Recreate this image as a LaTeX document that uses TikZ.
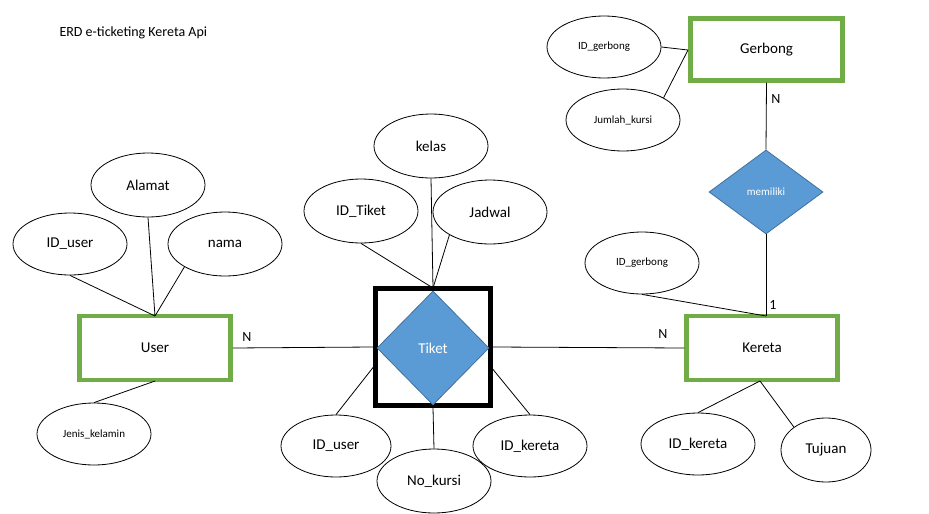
\documentclass[tikz,border=0pt]{standalone}
\usepackage{fontspec}
\setmainfont{Carlito}
\usetikzlibrary{shapes.geometric}
\definecolor{grn}{HTML}{70AD47}
\definecolor{blu}{HTML}{5B9BD5}
\definecolor{bord}{HTML}{41719C}
\begin{document}
\begin{tikzpicture}[x=1pt,y=-1pt,
 ent/.style={draw=grn,line width=4.5pt,minimum width=152pt,minimum height=62pt,font=\fontsize{15}{18}\selectfont},
 att/.style={draw,ellipse,line width=0.8pt,minimum width=114pt,minimum height=62pt,font=\fontsize{15}{18}\selectfont},
 satt/.style={att,font=\fontsize{11}{13}\selectfont},
 rel/.style={diamond,fill=blu,draw=bord,line width=0.8pt,aspect=1},
 ln/.style={line width=0.8pt}]
\useasboundingbox (0,0) rectangle (929,514);
\node[anchor=west,font=\fontsize{14}{17}\selectfont] (title) at (56,33) {ERD e-ticketing Kereta Api};
% entities
\node[ent] (gerbong) at (766.5,49.5) {Gerbong};
\node[ent,minimum width=151pt,minimum height=64pt] (kereta) at (762,348) {Kereta};
\node[ent,minimum width=151pt,minimum height=64pt] (user) at (155,348) {User};
\node[draw,line width=5pt,minimum width=115pt,minimum height=117pt] (tbox) at (433,347) {};
\node[rel,minimum width=112pt,minimum height=114pt,inner sep=0pt,font=\fontsize{15}{18}\selectfont,text=white] (tiket) at (433,348) {Tiket};
\node[rel,aspect=1.35,minimum width=114pt,minimum height=84pt,inner sep=0pt,font=\fontsize{11}{13}\selectfont,text=white] (memiliki) at (766,192) {memiliki};
% attributes
\node[satt] (idg1) at (604,47) {ID\_gerbong};
\node[satt] (jk) at (623,120) {Jumlah\_kursi};
\node[satt] (idg2) at (642,263) {ID\_gerbong};
\node[att] (idk2) at (698,444) {ID\_kereta};
\node[att,minimum width=90pt,minimum height=64pt] (tujuan) at (826,450) {Tujuan};
\node[att,minimum height=64pt] (kelas) at (431,146) {kelas};
\node[att,minimum height=64pt] (idt) at (361,211) {ID\_Tiket};
\node[att,minimum height=64pt] (jadwal) at (490,212) {Jadwal};
\node[att,minimum width=110pt] (idu2) at (336,446) {ID\_user};
\node[att,minimum height=64pt] (nok) at (434,481) {No\_kursi};
\node[att] (idk1) at (530,446) {ID\_kereta};
\node[att,minimum height=64pt] (alamat) at (148,185) {Alamat};
\node[att] (idu1) at (70,244) {ID\_user};
\node[att,minimum height=64pt] (nama) at (225,244) {nama};
\node[satt] (jkel) at (94,434) {Jenis\_kelamin};
% coordinates
\coordinate (gl) at (688,50);
\coordinate (kt) at (766,316);
\coordinate (kb) at (760,381);
\coordinate (tt) at (433,288);
\coordinate (ut) at (155,316);
\coordinate (ub) at (155,381);
\coordinate (tl) at (375,365);
\coordinate (tr) at (491,367);
% connectors
\draw[ln] (idg1.east) -- (gl);
\draw[ln] (jk.north east) -- (gl);
\draw[ln] (gerbong.south) -- (memiliki.north);
\draw[ln] (memiliki.south) -- (kt);
\draw[ln] (idg2.south) -- (kt);
\draw[ln] (idk2.north) -- (kb);
\draw[ln] (tujuan.north west) -- (kb);
\draw[ln] (kelas.south) -- (tt);
\draw[ln] (idt.south) -- (tt);
\draw[ln] (jadwal.south west) -- (tt);
\draw[ln] (idu2.north) -- (tl);
\draw[ln] (nok.north) -- (tbox.south);
\draw[ln] (idk1.north) -- (tr);
\draw[ln] (tbox.east) -- (kereta.west);
\draw[ln] (user.east) -- (tbox.west);
\draw[ln] (alamat.south) -- (ut);
\draw[ln] (idu1.south) -- (ut);
\draw[ln] (nama.south west) -- (ut);
\draw[ln] (jkel.north) -- (ub);
% cardinalities
\node[font=\fontsize{14}{17}\selectfont] (n1) at (776,99) {N};
\node[font=\fontsize{14}{17}\selectfont] (c1) at (773,305) {1};
\node[font=\fontsize{14}{17}\selectfont] (n2) at (663,334) {N};
\node[font=\fontsize{14}{17}\selectfont] (n3) at (247,337) {N};
\end{tikzpicture}
\end{document}
